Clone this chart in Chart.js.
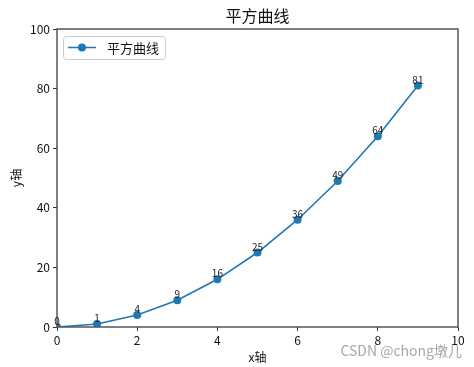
<!DOCTYPE html>
<html>
<head>
<meta charset="utf-8">
<script src="https://cdn.jsdelivr.net/npm/chart.js@4"></script>
<style>
  html, body { margin: 0; padding: 0; background: #fff; }
  #wrap { width: 474px; height: 367px; }
</style>
</head>
<body>
<div id="wrap"><canvas id="squareChart" width="474" height="367"></canvas></div>
<script>
// data
const xValues = [0, 1, 2, 3, 4, 5, 6, 7, 8, 9];
const yValues = [0, 1, 4, 9, 16, 25, 36, 49, 64, 81];
const seriesName = '平方曲线';
const chartTitle = '平方曲线';
const xLabel = 'x轴';
const yLabel = 'y轴';
const watermark = 'CSDN @chong墩儿';

const cjk = '"Noto Sans CJK SC", "DejaVu Sans", sans-serif';
const blue = '#1f77b4';

// extra drawing: frame, title, axis labels, point labels, legend, watermark
const extras = {
    id: 'extras',
    afterDatasetsDraw(chart) {
        const c = chart.ctx;
        const a = chart.chartArea;
        c.save();
        // frame
        c.strokeStyle = '#555';
        c.lineWidth = 1.5;
        c.strokeRect(a.left, a.top, a.right - a.left, a.bottom - a.top);

        // point labels
        const meta = chart.getDatasetMeta(0);
        c.fillStyle = '#222';
        c.font = '10px ' + cjk;
        c.textAlign = 'center';
        c.textBaseline = 'alphabetic';
        meta.data.forEach((pt, i) => {
            c.fillText(String(yValues[i]), pt.x, pt.y - 2);
        });

        // title
        c.fillStyle = '#111';
        c.font = '16px ' + cjk;
        c.textBaseline = 'middle';
        c.fillText(chartTitle, (a.left + a.right) / 2, 16);

        // axis labels
        c.font = '12px ' + cjk;
        c.fillText(xLabel, (a.left + a.right) / 2, 357);
        c.save();
        c.translate(16, (a.top + a.bottom) / 2);
        c.rotate(-Math.PI / 2);
        c.fillText(yLabel, 0, 0);
        c.restore();

        // legend
        const lx = 63, ly = 36, lw = 102, lh = 23;
        c.fillStyle = 'rgba(255,255,255,0.8)';
        c.strokeStyle = '#ccc';
        c.lineWidth = 1;
        c.beginPath();
        c.roundRect(lx + 0.5, ly + 0.5, lw, lh, 3);
        c.fill();
        c.stroke();
        c.strokeStyle = blue;
        c.lineWidth = 1.5;
        c.beginPath();
        c.moveTo(68, ly + 11.5);
        c.lineTo(96, ly + 11.5);
        c.stroke();
        c.fillStyle = blue;
        c.beginPath();
        c.arc(82, ly + 11.5, 4, 0, Math.PI * 2);
        c.fill();
        c.fillStyle = '#111';
        c.font = '13px ' + cjk;
        c.textAlign = 'left';
        c.fillText(seriesName, 107, ly + 12);

        // watermark
        c.fillStyle = 'rgba(150,150,150,0.85)';
        c.font = '14px ' + cjk;
        c.textAlign = 'right';
        c.fillText(watermark, 462, 351);
        c.restore();
    }
};

const ctx = document.getElementById('squareChart').getContext('2d');
const squareChart = new Chart(ctx, {
    type: 'line',
    data: {
        datasets: [{
            label: seriesName,
            data: xValues.map((x, i) => ({ x: x, y: yValues[i] })),
            borderColor: blue,
            backgroundColor: blue,
            borderWidth: 1.6,
            pointRadius: 4,
            pointHoverRadius: 4,
            pointBorderWidth: 0,
            tension: 0,
            fill: false
        }]
    },
    options: {
        responsive: false,
        animation: false,
        layout: {
            padding: { top: 29, right: 16, bottom: 0, left: 0 }
        },
        plugins: {
            legend: { display: false },
            title: { display: false },
            tooltip: { enabled: false }
        },
        scales: {
            x: {
                type: 'linear',
                min: 0,
                max: 10,
                afterFit(scale) { scale.height = 40; },
                grid: {
                    drawOnChartArea: false,
                    drawTicks: true,
                    tickLength: 4,
                    tickColor: '#333',
                    color: '#333'
                },
                border: { display: false },
                ticks: {
                    stepSize: 2,
                    color: '#111',
                    padding: 2,
                    maxRotation: 0,
                    font: { size: 12, family: cjk }
                }
            },
            y: {
                min: 0,
                max: 100,
                afterFit(scale) { scale.width = 57; },
                grid: {
                    drawOnChartArea: false,
                    drawTicks: true,
                    tickLength: 4,
                    tickColor: '#333',
                    color: '#333'
                },
                border: { display: false },
                ticks: {
                    stepSize: 20,
                    color: '#111',
                    padding: 3,
                    font: { size: 12, family: cjk }
                }
            }
        }
    },
    plugins: [extras]
});
</script>
</body>
</html>
